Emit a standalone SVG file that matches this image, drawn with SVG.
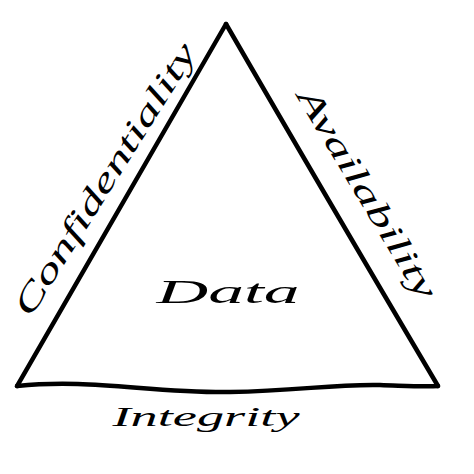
<svg xmlns="http://www.w3.org/2000/svg" width="474" height="474" viewBox="0 0 474 474">
<style>
.edge{fill:none;stroke:#000;stroke-width:4.5;stroke-linejoin:miter;stroke-linecap:round}
.lbl{font-family:"Liberation Serif","DejaVu Serif",serif;font-style:italic;fill:#000}
</style>
<rect width="474" height="474" fill="#fff"/>
<g id="connectors">
<path class="edge" d="M226,24 L17,386"/>
<path class="edge" d="M226,24 Q322,190 438,386"/>
<path class="edge" d="M17,386 C90,378 150,393 230,392 C300,391 330,384 380,385 C410,386 425,387 438,386"/>
</g>
<g id="triangle-node">
<text class="lbl" x="0" y="0" font-size="33" text-anchor="middle" textLength="315" lengthAdjust="spacingAndGlyphs" transform="translate(114,185) rotate(-58)">Confidentiality</text>
<text class="lbl" x="0" y="0" font-size="33" text-anchor="middle" textLength="240" lengthAdjust="spacingAndGlyphs" transform="translate(358,199) rotate(59)">Availability</text>
</g>
<g id="data-node">
<text class="lbl" x="228" y="303" font-size="34" text-anchor="middle" textLength="143" lengthAdjust="spacingAndGlyphs">Data</text>
</g>
<g id="integrity-node">
<text class="lbl" x="206" y="426" font-size="28" text-anchor="middle" textLength="187" lengthAdjust="spacingAndGlyphs">Integrity</text>
</g>
</svg>
